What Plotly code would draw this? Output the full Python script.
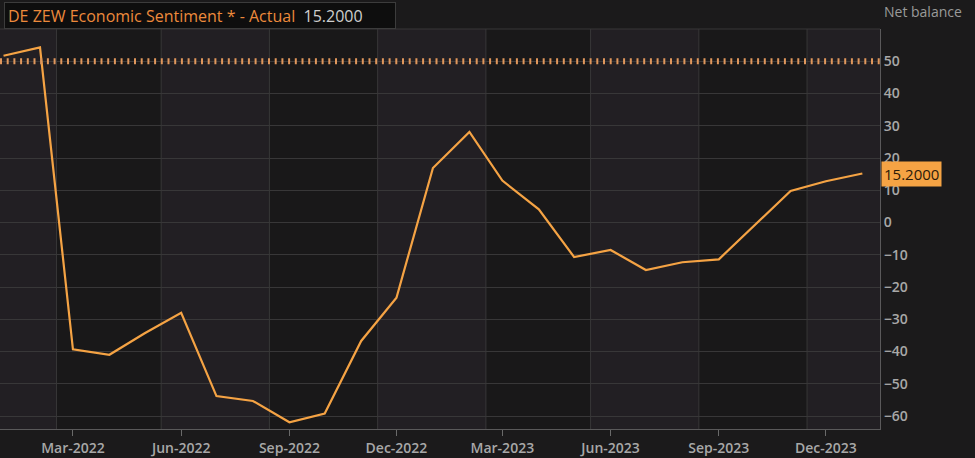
import plotly.graph_objects as go

months = ["2022-01-01", "2022-02-01", "2022-03-01", "2022-04-01", "2022-05-01",
          "2022-06-01", "2022-07-01", "2022-08-01", "2022-09-01", "2022-10-01",
          "2022-11-01", "2022-12-01", "2023-01-01", "2023-02-01", "2023-03-01",
          "2023-04-01", "2023-05-01", "2023-06-01", "2023-07-01", "2023-08-01",
          "2023-09-01", "2023-10-01", "2023-11-01", "2023-12-01", "2024-01-01"]
sentiment = [51.7, 54.3, -39.3, -41.0, -34.3, -28.0, -53.8, -55.3, -61.9, -59.2,
             -36.7, -23.3, 16.9, 28.1, 13.0, 4.1, -10.7, -8.5, -14.7, -12.3,
             -11.4, -1.1, 9.8, 12.8, 15.2]
y_ticks = [-60, -50, -40, -30, -20, -10, 0, 10, 20, 30, 40, 50]
reference_level = 50
last_value = "15.2000"

# quarter bands (mid Feb / May / Aug / Nov)
band_edges = ["2021-11-15", "2022-02-15", "2022-05-15", "2022-08-15", "2022-11-15",
              "2023-02-15", "2023-05-15", "2023-08-15", "2023-11-15", "2024-02-15"]

fig = go.Figure()

fig.add_trace(go.Scatter(
    x=months, y=sentiment, mode="lines",
    line=dict(color="#f5a344", width=2.2),
    hoverinfo="x+y", showlegend=False,
))

for i in range(len(band_edges) - 1):
    fill = "#221f23" if i % 2 == 0 else "#191819"
    fig.add_shape(type="rect", xref="x", yref="paper",
                  x0=band_edges[i], x1=band_edges[i + 1], y0=0, y1=1,
                  fillcolor=fill, line_width=0, layer="below")
    fig.add_shape(type="line", xref="x", yref="paper",
                  x0=band_edges[i], x1=band_edges[i], y0=0, y1=1,
                  line=dict(color="#383738", width=1), layer="below")

# horizontal grid (including the top edge at 60)
fig.add_shape(type="line", xref="paper", yref="paper", x0=0, x1=1, y0=1, y1=1,
              line=dict(color="#383738", width=1), layer="below")

# dotted reference line at 50
fig.add_shape(type="line", xref="paper", yref="y",
              x0=0, x1=1, y0=reference_level, y1=reference_level,
              line=dict(color="#e0975c", width=6, dash="2px,4.7px"))

fig.add_annotation(
    xref="paper", yref="paper", x=0.004, y=1.0, xanchor="left", yanchor="bottom",
    text="<span style='color:#ec8a3c'>DE ZEW Economic Sentiment * - Actual</span>"
         "  <span style='color:#cfcfcf'>" + last_value + "</span>",
    showarrow=False, font=dict(family="Open Sans", size=16),
    align="left", width=384, height=19,
    bgcolor="#0e0e0e", bordercolor="#3c3c3c", borderwidth=1, borderpad=3,
)

fig.add_annotation(
    xref="paper", yref="y", x=1, y=sentiment[-1], xanchor="left", yanchor="middle",
    text=last_value, showarrow=False, xshift=1,
    font=dict(family="Open Sans", size=15, color="#2a1a0a"),
    bgcolor="#f5a344", borderpad=2,
)

fig.add_annotation(
    xref="paper", yref="paper", x=1, y=1, xanchor="left", yanchor="bottom",
    text="Net balance", showarrow=False, xshift=2, yshift=6,
    font=dict(family="Open Sans", size=14, color="#9a9a9a"),
)

fig.update_layout(
    width=975, height=458,
    margin=dict(l=0, r=95, t=29, b=29),
    paper_bgcolor="#1b1a1b",
    plot_bgcolor="#191819",
    font=dict(family="Open Sans", color="#a8a8a8"),
    xaxis=dict(
        type="date", range=["2021-12-29", "2024-01-16"],
        tick0="2022-03-01", dtick="M3", tickformat="%b-%Y",
        ticks="outside", ticklen=6, tickcolor="#6a6a6a",
        showgrid=False, showline=True, linecolor="#5a595a",
        tickfont=dict(size=14, color="#a8a8a8", weight=600),
        zeroline=False,
    ),
    yaxis=dict(
        side="right", range=[-64, 60], tickvals=y_ticks,
        showgrid=True, gridcolor="#383738", gridwidth=1,
        showline=True, linecolor="#5a595a", zeroline=False,
        ticks="", tickfont=dict(size=14, color="#a8a8a8", weight=600),
    ),
)

fig.write_html("out.html", config={"displayModeBar": False})

# drop the default page margin so the figure sits at the window's corner
with open("out.html", encoding="utf-8") as f:
    page = f.read()
page = page.replace("<head>", "<head><style>body{margin:0;background:#1b1a1b}</style>", 1)
with open("out.html", "w", encoding="utf-8") as f:
    f.write(page)
